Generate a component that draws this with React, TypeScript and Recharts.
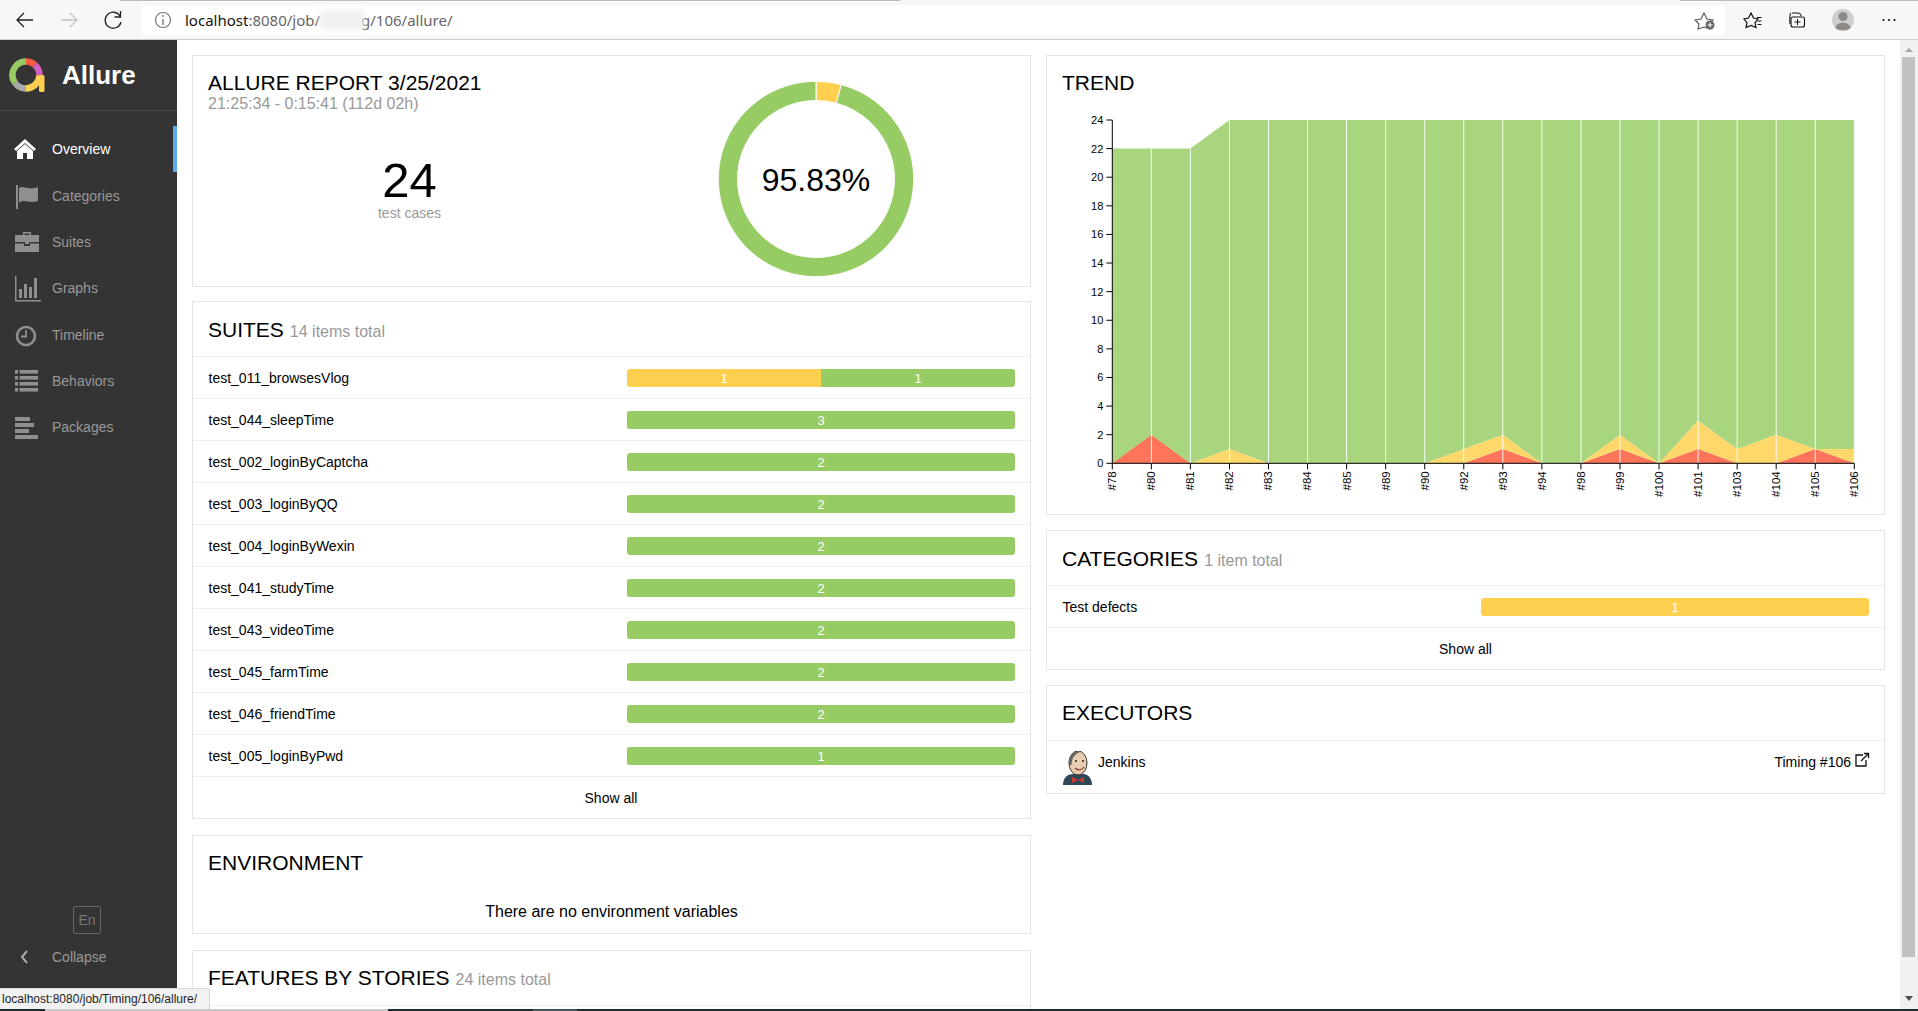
import React from "react";
import {
  AreaChart, Area, XAxis, YAxis, ReferenceLine, PieChart, Pie, Cell, Label,
  BarChart, Bar, LabelList, Rectangle,
} from "recharts";

const FONT = '"Liberation Sans", Arial, sans-serif';
const GREEN = "#97cc64";
const YELLOW = "#ffd050";
const RED = "#fd5a3e";

// Trend chart
const builds = ["#78","#80","#81","#82","#83","#84","#85","#89","#90","#92","#93","#94","#98","#99","#100","#101","#103","#104","#105","#106"];
const trendFailed = [0,2,0,0,0,0,0,0,0,0,1,0,0,1,0,1,0,0,1,0];
const trendBroken = [0,0,0,1,0,0,0,0,0,1,1,0,0,1,0,2,1,2,0,1];
const trendPassed = [22,20,22,23,24,24,24,24,24,23,22,24,24,22,24,21,23,22,23,23];
const trendTicks = [0,2,4,6,8,10,12,14,16,18,20,22,24];
const trendData = builds.map((build, i) => ({
  build, failed: trendFailed[i], broken: trendBroken[i], passed: trendPassed[i],
}));

// Donut
const donutLabels = ["broken", "passed"];
const donutValues = [1, 23];
const donutColors = [YELLOW, GREEN];
const donutData = donutLabels.map((name, i) => ({ name, value: donutValues[i] }));

// Suites
const suiteNames = ["test_011_browsesVlog","test_044_sleepTime","test_002_loginByCaptcha","test_003_loginByQQ","test_004_loginByWexin","test_041_studyTime","test_043_videoTime","test_045_farmTime","test_046_friendTime","test_005_loginByPwd"];
const suiteBroken = [1,0,0,0,0,0,0,0,0,0];
const suitePassed = [1,3,2,2,2,2,2,2,2,1];
const suiteData = suiteNames.map((name, i) => ({ name, broken: suiteBroken[i], passed: suitePassed[i] }));

// Categories
const categoryNames = ["Test defects"];
const categoryBroken = [1];
const categoryData = categoryNames.map((name, i) => ({ name, broken: categoryBroken[i], passed: 0 }));

const navItems = ["Overview","Categories","Suites","Graphs","Timeline","Behaviors","Packages"];
const navCenters = [149,196,242,288,335,381,427];

const T = ({ x, cy, size = 14, color = "#000", children, anchor = "left", bold = false, font = FONT }: any) => (
  <div style={{
    position: "absolute", top: cy - 15, height: 30, lineHeight: "30px", fontSize: size, color, whiteSpace: "nowrap",
    fontFamily: font, fontWeight: bold ? 700 : 400,
    ...(anchor === "left" ? { left: x } : anchor === "center" ? { left: x - 300, width: 600, textAlign: "center" } : { left: x - 600, width: 600, textAlign: "right" }),
  }}>{children}</div>
);

const Box = ({ x, y, w, h, bg, style }: any) => (
  <div style={{ position: "absolute", left: x, top: y, width: w, height: h, background: bg, ...style }} />
);

const Card = ({ x, y, x2, y2 }: any) => (
  <div style={{ position: "absolute", left: x, top: y, width: x2 - x, height: y2 - y, boxSizing: "border-box", border: "1px solid #e4e4e4", background: "#fff" }} />
);

const Title = ({ x, cy, children, sub }: any) => (
  <T x={x} cy={cy} size={21}>
    {children}
    {sub ? <span style={{ fontSize: 16, color: "#999", marginLeft: 6 }}>{sub}</span> : null}
  </T>
);

function NavIcon({ i, color }: any) {
  const s: any = { position: "absolute", left: i === 0 ? 12 : 14, top: navCenters[i] - 13, overflow: "visible" };
  const c = color;
  const icons = [
    <g fill={c}><path d="M2 13 L13 3 L24 13 L22 15 L13 7 L4 15 Z" /><path d="M5 15 L13 8 L21 15 V23 H15 V17 H11 V23 H5 Z" /></g>,
    <g fill={c}><rect x="2" y="2" width="2" height="24" /><path d="M5 5 C10 2 14 8 24 4 V18 C14 21 10 15 5 20 Z" /></g>,
    <g fill={c}><path d="M9 6 V3 H17 V6 H15.5 V4.5 H10.5 V6 Z" /><path d="M1 6 H25 V13 H15 V15 H11 V13 H1 Z" /><path d="M1 14.5 H10 V17 H16 V14.5 H25 V23 H1 Z" /></g>,
    <g fill={c}><rect x="1" y="1" width="1.5" height="25" /><rect x="1" y="25" width="26" height="1.5" /><rect x="5" y="14" width="3" height="9" /><rect x="10" y="9" width="3" height="14" /><rect x="15" y="12" width="3" height="11" /><rect x="20" y="3" width="3" height="20" /></g>,
    <g><circle cx="12" cy="14" r="9" fill="none" stroke={c} strokeWidth="2.6" /><path d="M12 8 V14.5 H7" fill="none" stroke={c} strokeWidth="1.8" /></g>,
    <g fill={c}>{[4,10,16,22].map((y) => <g key={y}><rect x="1" y={y - 2} width="3" height="3.6" /><rect x="5.5" y={y - 2} width="18.5" height="3.6" /></g>)}</g>,
    <g fill={c}><rect x="1" y="3" width="15" height="4" /><rect x="1" y="9" width="19" height="4" /><rect x="1" y="15" width="14" height="4" /><rect x="1" y="21" width="23" height="4" /></g>,
  ];
  return <svg width="26" height="26" style={s}>{icons[i]}</svg>;
}

function arc(cx: number, cy: number, r: number, a0: number, a1: number) {
  const p = (a: number) => [cx + r * Math.sin((a * Math.PI) / 180), cy - r * Math.cos((a * Math.PI) / 180)];
  const [x0, y0] = p(a0);
  const [x1, y1] = p(a1);
  return `M${x0} ${y0} A${r} ${r} 0 ${a1 - a0 > 180 ? 1 : 0} 1 ${x1} ${y1}`;
}

const Logo = () => (
  <svg width="40" height="40" style={{ position: "absolute", left: 8, top: 56 }} fill="none" strokeWidth="6.5">
    <path d={arc(18, 19, 13.5, 0, 40)} stroke={RED} />
    <path d={arc(18, 19, 13.5, 40, 92)} stroke="#d35ebe" />
    <path d={arc(18, 19, 13.5, 92, 180)} stroke={YELLOW} />
    <rect x="31" y="19" width="5.5" height="17" fill={YELLOW} stroke="none" rx="1.5" />
    <path d={arc(18, 19, 13.5, 180, 235)} stroke="#aaa" />
    <path d={arc(18, 19, 13.5, 235, 360)} stroke={GREEN} />
  </svg>
);

const BrowserChrome = () => (
  <>
    <Box x={0} y={0} w={1918} h={40} bg="#f7f7f7" />
    <Box x={120} y={0} w={780} h={1} bg="#bbb" />
    <Box x={1680} y={0} w={238} h={1} bg="#bbb" />
    <Box x={0} y={39} w={1918} h={1} bg="#cfcfcf" />
    <Box x={141} y={5} w={1584} h={30} bg="#fff" style={{ borderRadius: 5 }} />
    <svg width="1918" height="40" style={{ position: "absolute", left: 0, top: 0 }} fill="none">
      <path d="M17 20 H33 M24 13 L17 20 L24 27" stroke="#222" strokeWidth="1.3" />
      <path d="M61 20 H77 M70 13 L77 20 L70 27" stroke="#c4c4c4" strokeWidth="1.3" />
      <path d="M120 16 A8 8 0 1 0 121 22 M120.5 11 V17 H114.5" stroke="#222" strokeWidth="1.3" />
      <circle cx="163" cy="20" r="7.5" stroke="#777" strokeWidth="1.2" />
      <path d="M163 19 V25 M163 15 V17" stroke="#777" strokeWidth="1.4" />
      <path d="M1704 13 L1707 19 L1713 20 L1709 24 L1710 29 L1704 27 L1698 29 L1699 24 L1695 20 L1701 19 Z" stroke="#555" strokeWidth="1.1" />
      <circle cx="1710" cy="25" r="4.5" fill="#666" />
      <path d="M1707.5 25 H1712.5 M1710 22.5 V27.5" stroke="#fff" />
      <path d="M1751 13 L1753.5 18 L1758 19 L1755 23 L1756 27.5 L1751 25.5 L1746 27.5 L1747 23 L1744 19 L1748.5 18 Z" stroke="#111" strokeWidth="1.2" />
      <path d="M1757 17.5 H1761.5 M1757.5 21 H1761.5 M1757.5 24.5 H1761.5" stroke="#111" />
      <rect x="1791" y="17" width="13.5" height="10" rx="2" stroke="#111" strokeWidth="1.1" />
      <path d="M1792 13 H1797 C1800 13 1801 15 1801 16 M1791 13 C1789 14 1790 22 1790 24" stroke="#111" strokeWidth="1.1" />
      <path d="M1797.5 19 V25 M1794.5 22 H1800.5" stroke="#111" />
      <circle cx="1843" cy="20" r="11" fill="#cfcdcb" />
      <circle cx="1843" cy="16.5" r="4.5" fill="#8d8a88" />
      <path d="M1835.5 28 C1836 21 1850 21 1850.5 28 C1847 31 1839 31 1835.5 28 Z" fill="#8d8a88" />
      <circle cx="1883.5" cy="20" r="1.1" fill="#111" /><circle cx="1889" cy="20" r="1.1" fill="#111" /><circle cx="1894.5" cy="20" r="1.1" fill="#111" />
    </svg>
    <T x={185} cy={20} size={15} color="#666" font='"Noto Sans", sans-serif'>
      <span style={{ color: "#111" }}>localhost</span>:8080/job/
    </T>
    <T x={361} cy={20} size={15} color="#666" font='"Noto Sans", sans-serif'>g/106/allure/</T>
    <Box x={320} y={10} w={44} h={20} bg="#f0f0f0" style={{ filter: "blur(2.5px)" }} />
  </>
);

const Sidebar = () => (
  <>
    <Box x={0} y={40} w={177} h={969} bg="#343434" />
    <Logo />
    <T x={62} cy={75} size={26} color="#fff" bold>Allure</T>
    <Box x={0} y={110} w={177} h={1} bg="#4a4a4a" />
    <Box x={173} y={126} w={4} h={46} bg="#5ca9ec" />
    {navItems.map((n, i) => (
      <React.Fragment key={n}>
        <NavIcon i={i} color={i === 0 ? "#fff" : "#8f8f8f"} />
        <T x={52} cy={navCenters[i]} color={i === 0 ? "#fff" : "#999"}>{n}</T>
      </React.Fragment>
    ))}
    <div style={{ position: "absolute", left: 73, top: 906, width: 28, height: 28, boxSizing: "border-box", border: "1px solid #666", borderRadius: 2, color: "#777", fontFamily: FONT, fontSize: 14, textAlign: "center", lineHeight: "26px" }}>En</div>
    <svg width="12" height="16" style={{ position: "absolute", left: 19, top: 949 }} fill="none"><path d="M8 2 L3 8 L8 14" stroke="#aaa" strokeWidth="2" /></svg>
    <T x={52} cy={957} color="#999">Collapse</T>
  </>
);

const Jenkins = () => (
  <svg width="32" height="34" style={{ position: "absolute", left: 1062, top: 751 }}>
    <path d="M1 34 C1 26 6 23 12 23 H22 C27 24 30 28 30 34 Z" fill="#2f4858" />
    <ellipse cx="16" cy="12" rx="9" ry="12" fill="#e8cdb0" stroke="#333" strokeWidth="1" />
    <path d="M7 14 C5 4 12 0 19 0.5 C13 3 10 6 9.5 14 Z" fill="#666" />
    <circle cx="14" cy="10" r="1" fill="#222" /><circle cx="21" cy="10" r="1" fill="#222" />
    <path d="M13 17 C16 20 20 19 22 16" stroke="#8a3a2a" strokeWidth="1.2" fill="none" />
    <path d="M10 26 L16 29 L22 26 V32 L16 29 L10 32 Z" fill="#d33833" />
  </svg>
);

const stackedShape = (key: "broken" | "passed") => (p: any) => {
  if (!p.width || p.width <= 0) return <g />;
  const row = p.payload;
  const left = key === "broken" || !row.broken;
  const right = key === "passed" || !row.passed;
  const r = 3;
  return <Rectangle x={p.x} y={p.y} width={p.width} height={p.height} fill={p.fill} radius={[left ? r : 0, right ? r : 0, right ? r : 0, left ? r : 0]} />;
};

const nameTick = (p: any) => (
  <text x={15.5} y={p.y} dy="0.35em" fontSize={14} fontFamily={FONT} fill="#000">{p.payload.value}</text>
);

const hideZero = (v: any) => (v ? v : "");

const StatBars = ({ data, left, top, rowH }: any) => (
  <div style={{ position: "absolute", left, top }}>
    <BarChart width={837} height={rowH * data.length} data={data} layout="vertical" stackOffset="expand" barSize={18} margin={{ top: 0, right: 15, bottom: 0, left: 0 }}>
      <XAxis type="number" hide domain={[0, 1]} />
      <YAxis type="category" dataKey="name" width={434} axisLine={false} tickLine={false} tick={nameTick} interval={0} />
      <Bar dataKey="broken" stackId="s" fill={YELLOW} isAnimationActive={false} shape={stackedShape("broken")}>
        <LabelList dataKey="broken" position="center" fill="#fff" fontSize={13} fontFamily={FONT} formatter={hideZero} />
      </Bar>
      <Bar dataKey="passed" stackId="s" fill={GREEN} isAnimationActive={false} shape={stackedShape("passed")}>
        <LabelList dataKey="passed" position="center" fill="#fff" fontSize={13} fontFamily={FONT} formatter={hideZero} />
      </Bar>
    </BarChart>
  </div>
);

const buildTick = (p: any) => (
  <text transform={`translate(${p.x},${p.y}) rotate(-90)`} textAnchor="end" dy="0.34em" fontSize={11.5} fontFamily={FONT} fill="#000">{p.payload.value}</text>
);

const TrendChart = () => (
  <div style={{ position: "absolute", left: 1046, top: 100 }}>
    <AreaChart width={840} height={410} data={trendData} margin={{ top: 20, right: 31.7, bottom: 0, left: 0 }}>
      <XAxis dataKey="build" height={46.7} interval={0} tick={buildTick} tickSize={6} stroke="#000" tickLine={{ stroke: "#000" }} axisLine={{ stroke: "#000" }} />
      <YAxis width={66.3} domain={[0, 24]} ticks={trendTicks} interval={0} tickSize={6} tickMargin={3} stroke="#000" tick={{ fontSize: 11, fontFamily: FONT, fill: "#000" }} />
      <Area dataKey="failed" stackId="t" type="linear" stroke="none" fill={RED} fillOpacity={0.85} isAnimationActive={false} />
      <Area dataKey="broken" stackId="t" type="linear" stroke="none" fill={YELLOW} fillOpacity={0.85} isAnimationActive={false} />
      <Area dataKey="passed" stackId="t" type="linear" stroke="none" fill={GREEN} fillOpacity={0.83} isAnimationActive={false} />
      {builds.slice(1).map((b) => (
        <ReferenceLine key={b} x={b} stroke="#fff" strokeOpacity={0.9} strokeWidth={1} />
      ))}
    </AreaChart>
  </div>
);

const Donut = () => (
  <div style={{ position: "absolute", left: 696, top: 59 }}>
    <PieChart width={240} height={240} margin={{ top: 0, right: 0, bottom: 0, left: 0 }}>
      <Pie data={donutData} dataKey="value" nameKey="name" cx={120} cy={120} outerRadius={97.7} innerRadius={78.5} startAngle={90} endAngle={-270} stroke="#fff" strokeWidth={1} isAnimationActive={false}>
        {donutData.map((d, i) => <Cell key={d.name} fill={donutColors[i]} />)}
        <Label position="center" value="95.83%" fontSize={32} fontFamily={FONT} fill="#000" dy={1} />
      </Pie>
    </PieChart>
  </div>
);

export default function App() {
  return (
    <div style={{ position: "absolute", left: 0, top: 0, width: 1918, height: 1011, overflow: "hidden", background: "#fff", fontFamily: FONT }}>
      <BrowserChrome />
      <Sidebar />

      <Card x={192} y={55} x2={1031} y2={287} />
      <Title x={208} cy={83}>ALLURE REPORT 3/25/2021</Title>
      <T x={208} cy={104} size={16} color="#999">21:25:34 - 0:15:41 (112d 02h)</T>
      <T x={409.5} cy={180} size={49} anchor="center">24</T>
      <T x={409.5} cy={213} color="#999" anchor="center">test cases</T>
      <Donut />

      <Card x={192} y={301} x2={1031} y2={819} />
      <Title x={208} cy={330} sub="14 items total">SUITES</Title>
      {[0,1,2,3,4,5,6,7,8,9,10].map((i) => <Box key={i} x={193} y={356 + 42 * i} w={837} h={1} bg="#eceef0" />)}
      <StatBars data={suiteData} left={193} top={357} rowH={42} />
      <T x={611} cy={798} anchor="center">Show all</T>

      <Card x={192} y={835} x2={1031} y2={934} />
      <Title x={208} cy={863}>ENVIRONMENT</Title>
      <T x={611.5} cy={912} size={16} anchor="center">There are no environment variables</T>

      <Card x={192} y={950} x2={1031} y2={1030} />
      <Title x={208} cy={978} sub="24 items total">FEATURES BY STORIES</Title>
      <Box x={193} y={1005} w={837} h={1} bg="#eceef0" />

      <Card x={1046} y={55} x2={1885} y2={515} />
      <Title x={1062} cy={83}>TREND</Title>
      <TrendChart />

      <Card x={1046} y={530} x2={1885} y2={670} />
      <Title x={1062} cy={559} sub="1 item total">CATEGORIES</Title>
      <Box x={1047} y={585} w={837} h={1} bg="#eceef0" />
      <Box x={1047} y={627} w={837} h={1} bg="#eceef0" />
      <StatBars data={categoryData} left={1047} top={586} rowH={42} />
      <T x={1465.5} cy={649} anchor="center">Show all</T>

      <Card x={1046} y={685} x2={1885} y2={794} />
      <Title x={1062} cy={713}>EXECUTORS</Title>
      <Box x={1047} y={740} w={837} h={1} bg="#eceef0" />
      <Jenkins />
      <T x={1098} cy={762}>Jenkins</T>
      <T x={1851} cy={762} anchor="right">Timing #106</T>
      <svg width="16" height="16" style={{ position: "absolute", left: 1854, top: 752 }} fill="none" stroke="#111" strokeWidth="1.3">
        <path d="M9 3 H2 V14 H12 V8" /><path d="M7 9 L14 2 M10 1.5 H14.5 V6" />
      </svg>

      <Box x={1900} y={40} w={18} h={969} bg="#f1f1f1" />
      <Box x={1902} y={57} w={13} h={900} bg="#c1c1c1" />
      <svg width="18" height="969" style={{ position: "absolute", left: 1900, top: 40 }}>
        <path d="M5 12 L9 8 L13 12 Z" fill="#a3a3a3" />
        <path d="M5 956 L13 956 L9 961 Z" fill="#505050" />
      </svg>

      <div style={{ position: "absolute", left: 0, top: 988, width: 210, height: 21, boxSizing: "border-box", background: "#f2f2f2", border: "1px solid #d8d8d8", borderLeft: "none", borderBottom: "none", borderTopRightRadius: 3, fontFamily: FONT, fontSize: 12, lineHeight: "20px", paddingLeft: 2, color: "#222", whiteSpace: "nowrap" }}>
        localhost:8080/job/Timing/106/allure/
      </div>
      <Box x={0} y={1009} w={1918} h={2} bg="#1f2b30" />
      <Box x={45} y={1009} w={343} h={2} bg="#c8c8c8" />
      <Box x={533} y={1009} w={44} h={2} bg="#45555c" />
    </div>
  );
}
